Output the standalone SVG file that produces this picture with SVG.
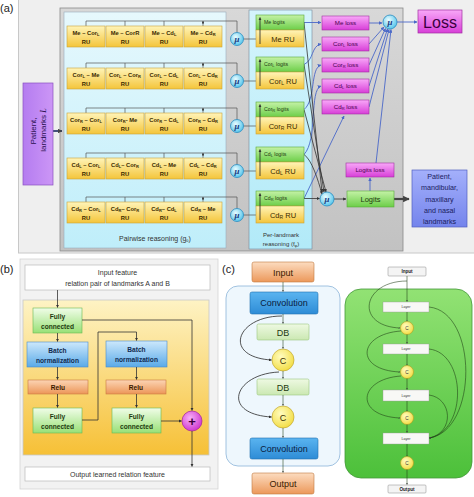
<svg xmlns="http://www.w3.org/2000/svg" width="474" height="497" viewBox="0 0 474 497">
<defs>
<linearGradient id="gY" x1="0" y1="0" x2="0" y2="1"><stop offset="0" stop-color="#fff4b8"/><stop offset="1" stop-color="#f4c53a"/></linearGradient>
<linearGradient id="gG" x1="0" y1="0" x2="0" y2="1"><stop offset="0" stop-color="#c4f2a6"/><stop offset="1" stop-color="#6cce48"/></linearGradient>
<linearGradient id="gM" x1="0" y1="0" x2="0" y2="1"><stop offset="0" stop-color="#f8a8f8"/><stop offset="1" stop-color="#d83ed8"/></linearGradient>
<radialGradient id="gMu" cx="0.4" cy="0.35" r="0.7"><stop offset="0" stop-color="#eafcff"/><stop offset="1" stop-color="#4ec2ea"/></radialGradient>
<linearGradient id="gP" x1="0" y1="0" x2="1" y2="0"><stop offset="0" stop-color="#b47cf0"/><stop offset="1" stop-color="#cc96f6"/></linearGradient>
<linearGradient id="gBV" x1="0" y1="0" x2="0" y2="1"><stop offset="0" stop-color="#a4b0fb"/><stop offset="1" stop-color="#7484ec"/></linearGradient>
<linearGradient id="gFrame" x1="0" y1="0" x2="0" y2="1"><stop offset="0" stop-color="#d8d8d8"/><stop offset="1" stop-color="#c2c2c2"/></linearGradient>
<linearGradient id="gPair" x1="0" y1="0" x2="0" y2="1"><stop offset="0" stop-color="#e6f8fd"/><stop offset="1" stop-color="#bfeefa"/></linearGradient>
<linearGradient id="gPer" x1="0" y1="0" x2="0" y2="1"><stop offset="0" stop-color="#d4f4fc"/><stop offset="1" stop-color="#b2eaf8"/></linearGradient>
<linearGradient id="gOY" x1="0" y1="0" x2="0" y2="1"><stop offset="0" stop-color="#fef3c4"/><stop offset="1" stop-color="#f6c036"/></linearGradient>
<linearGradient id="gFC" x1="0" y1="0" x2="0" y2="1"><stop offset="0" stop-color="#f0fde8"/><stop offset="1" stop-color="#98e076"/></linearGradient>
<linearGradient id="gBN" x1="0" y1="0" x2="0" y2="1"><stop offset="0" stop-color="#cce8fc"/><stop offset="1" stop-color="#5aaae8"/></linearGradient>
<linearGradient id="gRelu" x1="0" y1="0" x2="0" y2="1"><stop offset="0" stop-color="#fcd4b4"/><stop offset="1" stop-color="#ec9658"/></linearGradient>
<radialGradient id="gPlus" cx="0.4" cy="0.35" r="0.7"><stop offset="0" stop-color="#f8b0f8"/><stop offset="1" stop-color="#cc30cc"/></radialGradient>
<linearGradient id="gOr" x1="0" y1="0" x2="0" y2="1"><stop offset="0" stop-color="#fcdcc0"/><stop offset="1" stop-color="#ec985a"/></linearGradient>
<linearGradient id="gConv" x1="0" y1="0" x2="0" y2="1"><stop offset="0" stop-color="#5ab4f0"/><stop offset="1" stop-color="#2e8cd6"/></linearGradient>
<linearGradient id="gDB" x1="0" y1="0" x2="0" y2="1"><stop offset="0" stop-color="#eef9e2"/><stop offset="1" stop-color="#cbe8b2"/></linearGradient>
<radialGradient id="gC" cx="0.4" cy="0.35" r="0.7"><stop offset="0" stop-color="#fffcc0"/><stop offset="1" stop-color="#f2dc40"/></radialGradient>
<linearGradient id="gGP" x1="0" y1="0" x2="0" y2="1"><stop offset="0" stop-color="#92e274"/><stop offset="1" stop-color="#4cc03a"/></linearGradient>
<marker id="aD" viewBox="0 0 10 10" refX="9" refY="5" markerWidth="4" markerHeight="4" orient="auto"><path d="M0,0 L10,5 L0,10 z" fill="#333"/></marker>
<marker id="aB" viewBox="0 0 10 10" refX="9" refY="5" markerWidth="4" markerHeight="4" orient="auto"><path d="M0,0 L10,5 L0,10 z" fill="#4a68c8"/></marker>
<marker id="aS" viewBox="0 0 10 10" refX="9" refY="5" markerWidth="5" markerHeight="5" orient="auto"><path d="M0,0 L10,5 L0,10 z" fill="#222"/></marker>
<marker id="aT" viewBox="0 0 10 10" refX="9" refY="5" markerWidth="3" markerHeight="3" orient="auto"><path d="M0,0 L10,5 L0,10 z" fill="#444"/></marker>
</defs>
<style>
text{font-family:"Liberation Sans",Arial,sans-serif;}
.cell{fill:url(#gY);stroke:#c9a23a;stroke-width:0.6;}
.ct{font-size:5.8px;font-weight:bold;fill:#3a2a00;text-anchor:middle;}
.s{font-size:4px;}
.mu{fill:url(#gMu);stroke:#2a8cc0;stroke-width:0.8;}
.mut{font-family:"Liberation Serif",serif;font-style:italic;font-weight:bold;font-size:9px;fill:#1a3a80;text-anchor:middle;}
.lg{fill:url(#gG);stroke:#58a83a;stroke-width:0.6;}
.lgt{font-size:5.2px;fill:#1f3a10;}
.rut{font-size:7.5px;fill:#3a2a00;text-anchor:middle;}
.loss{fill:url(#gM);stroke:#a030a0;stroke-width:0.6;}
.lt{font-size:6.2px;fill:#4a0050;text-anchor:middle;}
.tree{fill:none;stroke:#555;stroke-width:0.7;}
.blue{fill:none;stroke:#4a68c8;stroke-width:0.9;marker-end:url(#aB);}
.dark{fill:none;stroke:#333;stroke-width:0.8;marker-end:url(#aD);}
.bk{fill:none;stroke:#222;stroke-width:0.8;marker-end:url(#aD);}
.bt{font-size:6.6px;font-weight:bold;text-anchor:middle;}
.ctx{font-size:9px;text-anchor:middle;}
.gl{fill:none;stroke:#1e3a14;stroke-width:0.55;marker-end:url(#aT);}
.lay{fill:#f8f8f6;stroke:#999;stroke-width:0.4;}
.cc{fill:url(#gC);stroke:#b89a20;stroke-width:0.6;}
</style>

<!-- panel backgrounds -->
<g id="panel-a-bg">
<rect x="18.5" y="-1" width="457" height="254" fill="#efefef" stroke="#c8c8c8" stroke-width="1"/>
<rect x="60" y="8" width="343" height="243" fill="url(#gFrame)" stroke="#8a8a8a" stroke-width="0.8"/>
<rect x="64" y="12" width="162" height="236" fill="url(#gPair)" stroke="#9ab" stroke-width="0.6"/>
<rect x="249" y="10" width="63" height="239" fill="url(#gPer)" stroke="#789" stroke-width="0.6"/>
<text x="155" y="241" font-size="7" fill="#333" text-anchor="middle">Pairwise reasoning (g<tspan class="s" dy="1.2">θ</tspan><tspan dy="-1.2">)</tspan></text>
<text x="281" y="237" font-size="6" fill="#333" text-anchor="middle">Per-landmark</text>
<text x="281" y="246" font-size="6" fill="#333" text-anchor="middle">reasoning (f<tspan class="s" dy="1.2">φ</tspan><tspan dy="-1.2">)</tspan></text>
</g>
<text x="0" y="12" font-size="11" fill="#222">(a)</text>
<text x="0" y="273" font-size="11" fill="#222">(b)</text>
<text x="222" y="273" font-size="11" fill="#222">(c)</text>

<!-- connectors panel a -->
<g id="connectors-a">
<path class="tree" d="M86,26V21H237V32.5M125,26V21M164,26V21M203,26V21" marker-end="url(#aD)"/>
<path class="tree" d="M86,68V63H237V74.5M125,68V63M164,68V63M203,68V63" marker-end="url(#aD)"/>
<path class="tree" d="M86,113V108H237V119.5M125,113V108M164,113V108M203,113V108" marker-end="url(#aD)"/>
<path class="tree" d="M86,158V153H237V164.5M125,158V153M164,158V153M203,158V153" marker-end="url(#aD)"/>
<path class="tree" d="M86,202V197H237V208.5M125,202V197M164,202V197M203,202V197" marker-end="url(#aD)"/>
<path class="tree" d="M243.5,39H256M243.5,81H256M243.5,126H256M243.5,171H256M243.5,215H256"/>
<!-- logits to losses -->
<path class="blue" d="M304,22.5H321"/>
<path class="blue" d="M304,64.5C314,60 311,46 321,44"/>
<path class="blue" d="M304,109.5C316,100 310,68 321,65"/>
<path class="blue" d="M304,154.5C318,140 309,90 321,86"/>
<path class="blue" d="M304,198.5L344,116"/>
<!-- logits to lower mu -->
<path class="dark" d="M304,22.5L322,192"/>
<path class="dark" d="M304,64.5L324,192"/>
<path class="dark" d="M304,109.5L326,192"/>
<path class="dark" d="M304,154.5C312,160 318,180 322,194"/>
<path class="dark" d="M304,198.5H319.5"/>
<!-- losses to mu -->
<path class="blue" d="M369,23H382"/>
<path class="blue" d="M369,44L384,27"/>
<path class="blue" d="M369,65L385.5,28.5"/>
<path class="blue" d="M369,86L387.5,29"/>
<path class="blue" d="M369,107L389,29.5"/>
<path class="blue" d="M376,163L391,29.5"/>
<path class="blue" d="M397,22H417"/>
<!-- lower -->
<path class="dark" d="M334,199H346"/>
<path class="blue" d="M370,191V178"/>
<path d="M394,199H409" stroke="#444" stroke-width="2.2" fill="none" marker-end="url(#aT)"/>
<path d="M53,131H62" stroke="#1a2a60" stroke-width="1.6" fill="none" marker-end="url(#aT)"/>
</g>

<!-- patient landmarks input -->
<g id="patient-landmarks">
<rect x="23" y="83" width="30" height="102" fill="url(#gP)" stroke="#8a50c0" stroke-width="0.7"/>
<text transform="translate(38,134) rotate(-90)" font-size="8" fill="#2a1050" text-anchor="middle"><tspan x="3" y="-2">Patient,</tspan><tspan x="4" y="8">landmarks   <tspan font-family="Liberation Serif,serif" font-style="italic">L</tspan></tspan></text>
</g>

<!-- pairwise RU cells -->
<g id="ru-me-corl"><rect class="cell" x="67" y="26" width="38" height="21"/><text class="ct" x="86" y="34.5">Me – Cor<tspan class="s" dy="1.2">L</tspan></text><text class="ct" x="86" y="43.5">RU</text></g>
<g id="ru-me-corr"><rect class="cell" x="106" y="26" width="38" height="21"/><text class="ct" x="125" y="34.5">Me – CorR</text><text class="ct" x="125" y="43.5">RU</text></g>
<g id="ru-me-cdl"><rect class="cell" x="145" y="26" width="38" height="21"/><text class="ct" x="164" y="34.5">Me – Cd<tspan class="s" dy="1.2">L</tspan></text><text class="ct" x="164" y="43.5">RU</text></g>
<g id="ru-me-cdr"><rect class="cell" x="184" y="26" width="38" height="21"/><text class="ct" x="203" y="34.5">Me – Cd<tspan class="s" dy="1.2">R</tspan></text><text class="ct" x="203" y="43.5">RU</text></g>

<g id="ru-corl-me"><rect class="cell" x="67" y="68" width="38" height="21"/><text class="ct" x="86" y="76.5">Cor<tspan class="s" dy="1.2">L</tspan><tspan dy="-1.2"> – Me</tspan></text><text class="ct" x="86" y="85.5">RU</text></g>
<g id="ru-corl-corr"><rect class="cell" x="106" y="68" width="38" height="21"/><text class="ct" x="125" y="76.5">Cor<tspan class="s" dy="1.2">L</tspan><tspan dy="-1.2"> – Cor</tspan><tspan class="s" dy="1.2">R</tspan></text><text class="ct" x="125" y="85.5">RU</text></g>
<g id="ru-corl-cdl"><rect class="cell" x="145" y="68" width="38" height="21"/><text class="ct" x="164" y="76.5">Cor<tspan class="s" dy="1.2">L</tspan><tspan dy="-1.2"> – Cd</tspan><tspan class="s" dy="1.2">L</tspan></text><text class="ct" x="164" y="85.5">RU</text></g>
<g id="ru-corl-cdr"><rect class="cell" x="184" y="68" width="38" height="21"/><text class="ct" x="203" y="76.5">Cor<tspan class="s" dy="1.2">L</tspan><tspan dy="-1.2"> – Cd</tspan><tspan class="s" dy="1.2">R</tspan></text><text class="ct" x="203" y="85.5">RU</text></g>

<g id="ru-corr-corl"><rect class="cell" x="67" y="113" width="38" height="21"/><text class="ct" x="86" y="121.5">Cor<tspan class="s" dy="1.2">R</tspan><tspan dy="-1.2"> – Cor</tspan><tspan class="s" dy="1.2">L</tspan></text><text class="ct" x="86" y="130.5">RU</text></g>
<g id="ru-corr-me"><rect class="cell" x="106" y="113" width="38" height="21"/><text class="ct" x="125" y="121.5">Cor<tspan class="s" dy="1.2">R</tspan><tspan dy="-1.2">- Me</tspan></text><text class="ct" x="125" y="130.5">RU</text></g>
<g id="ru-corr-cdl"><rect class="cell" x="145" y="113" width="38" height="21"/><text class="ct" x="164" y="121.5">Cor<tspan class="s" dy="1.2">R</tspan><tspan dy="-1.2"> – Cd</tspan><tspan class="s" dy="1.2">L</tspan></text><text class="ct" x="164" y="130.5">RU</text></g>
<g id="ru-corr-cdr"><rect class="cell" x="184" y="113" width="38" height="21"/><text class="ct" x="203" y="121.5">Cor<tspan class="s" dy="1.2">R</tspan><tspan dy="-1.2"> – Cd</tspan><tspan class="s" dy="1.2">R</tspan></text><text class="ct" x="203" y="130.5">RU</text></g>

<g id="ru-cdl-corl"><rect class="cell" x="67" y="158" width="38" height="21"/><text class="ct" x="86" y="166.5">Cd<tspan class="s" dy="1.2">L</tspan><tspan dy="-1.2"> – Cor</tspan><tspan class="s" dy="1.2">L</tspan></text><text class="ct" x="86" y="175.5">RU</text></g>
<g id="ru-cdl-corr"><rect class="cell" x="106" y="158" width="38" height="21"/><text class="ct" x="125" y="166.5">Cd<tspan class="s" dy="1.2">L</tspan><tspan dy="-1.2">– Cor</tspan><tspan class="s" dy="1.2">R</tspan></text><text class="ct" x="125" y="175.5">RU</text></g>
<g id="ru-cdl-me"><rect class="cell" x="145" y="158" width="38" height="21"/><text class="ct" x="164" y="166.5">Cd<tspan class="s" dy="1.2">L</tspan><tspan dy="-1.2"> – Me</tspan></text><text class="ct" x="164" y="175.5">RU</text></g>
<g id="ru-cdl-cdr"><rect class="cell" x="184" y="158" width="38" height="21"/><text class="ct" x="203" y="166.5">Cd<tspan class="s" dy="1.2">L</tspan><tspan dy="-1.2"> – Cd</tspan><tspan class="s" dy="1.2">R</tspan></text><text class="ct" x="203" y="175.5">RU</text></g>

<g id="ru-cdr-corl"><rect class="cell" x="67" y="202" width="38" height="21"/><text class="ct" x="86" y="210.5">Cd<tspan class="s" dy="1.2">R</tspan><tspan dy="-1.2"> – Cor</tspan><tspan class="s" dy="1.2">L</tspan></text><text class="ct" x="86" y="219.5">RU</text></g>
<g id="ru-cdr-corr"><rect class="cell" x="106" y="202" width="38" height="21"/><text class="ct" x="125" y="210.5">Cd<tspan class="s" dy="1.2">R</tspan><tspan dy="-1.2">– Cor</tspan><tspan class="s" dy="1.2">R</tspan></text><text class="ct" x="125" y="219.5">RU</text></g>
<g id="ru-cdr-cdl"><rect class="cell" x="145" y="202" width="38" height="21"/><text class="ct" x="164" y="210.5">Cd<tspan class="s" dy="1.2">R</tspan><tspan dy="-1.2">– Cd</tspan><tspan class="s" dy="1.2">L</tspan></text><text class="ct" x="164" y="219.5">RU</text></g>
<g id="ru-cdr-me"><rect class="cell" x="184" y="202" width="38" height="21"/><text class="ct" x="203" y="210.5">Cd<tspan class="s" dy="1.2">R</tspan><tspan dy="-1.2"> – Me</tspan></text><text class="ct" x="203" y="219.5">RU</text></g>

<!-- mu nodes -->
<g id="mu-1"><circle class="mu" cx="237" cy="39" r="6.5"/><text class="mut" x="237" y="42">μ</text></g>
<g id="mu-2"><circle class="mu" cx="237" cy="81" r="6.5"/><text class="mut" x="237" y="84">μ</text></g>
<g id="mu-3"><circle class="mu" cx="237" cy="126" r="6.5"/><text class="mut" x="237" y="129">μ</text></g>
<g id="mu-4"><circle class="mu" cx="237" cy="171" r="6.5"/><text class="mut" x="237" y="174">μ</text></g>
<g id="mu-5"><circle class="mu" cx="237" cy="215" r="6.5"/><text class="mut" x="237" y="218">μ</text></g>

<!-- per-landmark -->
<g id="pl-me"><rect class="lg" x="256" y="15" width="48" height="15"/><rect class="cell" x="256" y="30" width="48" height="17"/><path d="M260,44V17.5" class="bk" marker-end="url(#aT)"/><text class="lgt" x="264" y="24">Me logits</text><text class="rut" x="283" y="41.5">Me RU</text></g>
<g id="pl-corl"><rect class="lg" x="256" y="57" width="48" height="15"/><rect class="cell" x="256" y="72" width="48" height="17"/><path d="M260,86V59.5" class="bk" marker-end="url(#aT)"/><text class="lgt" x="264" y="66">Cor<tspan class="s" dy="1">L</tspan><tspan dy="-1"> logits</tspan></text><text class="rut" x="283" y="83.5">Cor<tspan font-size="5" dy="1.5">L</tspan><tspan dy="-1.5"> RU</tspan></text></g>
<g id="pl-corr"><rect class="lg" x="256" y="102" width="48" height="15"/><rect class="cell" x="256" y="117" width="48" height="17"/><path d="M260,131V104.5" class="bk" marker-end="url(#aT)"/><text class="lgt" x="264" y="111">Cor<tspan class="s" dy="1">R</tspan><tspan dy="-1"> logits</tspan></text><text class="rut" x="283" y="128.5">Cor<tspan font-size="5" dy="1.5">R</tspan><tspan dy="-1.5">  RU</tspan></text></g>
<g id="pl-cdl"><rect class="lg" x="256" y="147" width="48" height="15"/><rect class="cell" x="256" y="162" width="48" height="17"/><path d="M260,176V149.5" class="bk" marker-end="url(#aT)"/><text class="lgt" x="264" y="156">Cd<tspan class="s" dy="1">L</tspan><tspan dy="-1"> logits</tspan></text><text class="rut" x="283" y="173.5">Cd<tspan font-size="5" dy="1.5">L</tspan><tspan dy="-1.5">  RU</tspan></text></g>
<g id="pl-cdr"><rect class="lg" x="256" y="191" width="48" height="15"/><rect class="cell" x="256" y="206" width="48" height="17"/><path d="M260,220V193.5" class="bk" marker-end="url(#aT)"/><text class="lgt" x="264" y="200">Cd<tspan class="s" dy="1">R</tspan><tspan dy="-1"> logits</tspan></text><text class="rut" x="283" y="217.5">Cd<tspan font-size="5" dy="1.5">R</tspan><tspan dy="-1.5"> RU</tspan></text></g>

<!-- losses -->
<g id="me-loss"><rect class="loss" x="322" y="16" width="47" height="14"/><text class="lt" x="345.5" y="25.2">Me loss</text></g>
<g id="corl-loss"><rect class="loss" x="322" y="37" width="47" height="14"/><text class="lt" x="345.5" y="46.2">Cor<tspan class="s" dy="1">L</tspan><tspan dy="-1"> loss</tspan></text></g>
<g id="corr-loss"><rect class="loss" x="322" y="58" width="47" height="14"/><text class="lt" x="345.5" y="67.2">Cor<tspan class="s" dy="1">R</tspan><tspan dy="-1"> loss</tspan></text></g>
<g id="cdl-loss"><rect class="loss" x="322" y="79" width="47" height="14"/><text class="lt" x="345.5" y="88.2">Cd<tspan class="s" dy="1">L</tspan><tspan dy="-1"> loss</tspan></text></g>
<g id="cdr-loss"><rect class="loss" x="322" y="100" width="47" height="14"/><text class="lt" x="345.5" y="109.2">Cd<tspan class="s" dy="1">R</tspan><tspan dy="-1"> loss</tspan></text></g>
<g id="mu-loss"><circle class="mu" cx="390" cy="22" r="7"/><text class="mut" x="390" y="25" font-size="8">μ</text></g>
<g id="loss"><rect x="418" y="10" width="44" height="23" fill="url(#gM)" stroke="#a030a0" stroke-width="0.7"/><text x="440" y="27.5" font-size="16" fill="#3a0040" text-anchor="middle">Loss</text></g>
<g id="mu-logits"><circle class="mu" cx="327" cy="199" r="7"/><text class="mut" x="327" y="202">μ</text></g>
<g id="logits-loss"><rect class="loss" x="346" y="163" width="48" height="14"/><text class="lt" x="370" y="172.2">Logits loss</text></g>
<g id="logits"><rect class="lg" x="347" y="191" width="47" height="16"/><text x="370.5" y="201.5" font-size="7.5" fill="#1f3a10" text-anchor="middle">Logits</text></g>
<g id="patient-output"><rect x="412" y="170" width="55" height="57" fill="url(#gBV)" stroke="#5060c0" stroke-width="0.7"/>
<text font-size="7.2" fill="#1a2060" text-anchor="middle"><tspan x="439.5" y="178.5">Patient,</tspan><tspan x="439.5" y="190">mandibular,</tspan><tspan x="439.5" y="201.5">maxillary</tspan><tspan x="439.5" y="212.5">and nasal</tspan><tspan x="439.5" y="223.5">landmarks</tspan></text></g>

<!-- panel b -->
<g id="panel-b-bg"><rect x="20" y="259" width="198" height="230" fill="#f2f2f2" stroke="#d4d4d4" stroke-width="0.8"/>
<rect x="23" y="300" width="186" height="155" fill="url(#gOY)" stroke="#c8c8c8" stroke-width="0.8"/></g>
<g id="input-feature"><rect x="25" y="265" width="185" height="25" fill="#fff" stroke="#bbb" stroke-width="0.7"/><text x="117.5" y="275" font-size="7" fill="#333" text-anchor="middle">Input feature</text><text x="117.5" y="286" font-size="7" fill="#333" text-anchor="middle">relation pair of landmarks A and B</text></g>
<g id="fc1"><rect x="33" y="308" width="49" height="25" fill="url(#gFC)" stroke="#6ab850" stroke-width="0.6"/><text class="bt" x="57.5" y="318.5" fill="#1e3a10">Fully</text><text class="bt" x="57.5" y="329" fill="#1e3a10">connected</text></g>
<g id="bn1"><rect x="27" y="342" width="61" height="25" fill="url(#gBN)" stroke="#4a8ac8" stroke-width="0.6"/><text class="bt" x="57.5" y="352.5" fill="#102a50">Batch</text><text class="bt" x="57.5" y="363" fill="#102a50">normalization</text></g>
<g id="relu1"><rect x="28" y="380" width="60" height="14" fill="url(#gRelu)" stroke="#c87840" stroke-width="0.6"/><text class="bt" x="58" y="389.5" fill="#3a1a00">Relu</text></g>
<g id="fc2"><rect x="33" y="408" width="49" height="25" fill="url(#gFC)" stroke="#6ab850" stroke-width="0.6"/><text class="bt" x="57.5" y="418.5" fill="#1e3a10">Fully</text><text class="bt" x="57.5" y="429" fill="#1e3a10">connected</text></g>
<g id="bn2"><rect x="106" y="341" width="61" height="26" fill="url(#gBN)" stroke="#4a8ac8" stroke-width="0.6"/><text class="bt" x="136.5" y="351.5" fill="#102a50">Batch</text><text class="bt" x="136.5" y="362" fill="#102a50">normalization</text></g>
<g id="relu2"><rect x="106" y="380" width="60" height="14" fill="url(#gRelu)" stroke="#c87840" stroke-width="0.6"/><text class="bt" x="136" y="389.5" fill="#3a1a00">Relu</text></g>
<g id="fc3"><rect x="112" y="408" width="49" height="25" fill="url(#gFC)" stroke="#6ab850" stroke-width="0.6"/><text class="bt" x="136.5" y="418.5" fill="#1e3a10">Fully</text><text class="bt" x="136.5" y="429" fill="#1e3a10">connected</text></g>
<g id="plus"><circle cx="192" cy="421" r="10" fill="url(#gPlus)" stroke="#a020a0" stroke-width="0.7"/><text x="192" y="425.5" font-size="13" font-weight="bold" fill="#3a003a" text-anchor="middle">+</text></g>
<g id="output-feature"><rect x="25" y="467" width="185" height="14" fill="#fff" stroke="#bbb" stroke-width="0.7"/><text x="117.5" y="476.5" font-size="7" fill="#333" text-anchor="middle">Output learned relation feature</text></g>
<g id="connectors-b">
<path class="dark" d="M57.5,290V307.5"/>
<path class="dark" d="M57.5,333V341.5"/>
<path class="dark" d="M57.5,367V379.5"/>
<path class="dark" d="M57.5,394V407.5"/>
<path class="dark" d="M82,420H98V332H136.5V340.5"/>
<path class="dark" d="M136.5,367V379.5"/>
<path class="dark" d="M136.5,394V407.5"/>
<path class="dark" d="M161,421H181.5"/>
<path class="dark" d="M82,320H192V410.5"/>
<path class="dark" d="M192,431V466.5"/>
</g>

<!-- panel c left -->
<g id="panel-c-left-bg"><rect x="226" y="286" width="114" height="180" rx="12" fill="#eef7fd" stroke="#8cb4d8" stroke-width="0.8"/></g>
<g id="c-input"><rect x="252" y="262" width="62" height="20" rx="2" fill="url(#gOr)" stroke="#c07840" stroke-width="0.6"/><text class="ctx" x="283" y="275.5" fill="#3a1a00">Input</text></g>
<g id="conv1"><rect x="250" y="292" width="68" height="22" rx="2" fill="url(#gConv)" stroke="#2070b0" stroke-width="0.6"/><text class="ctx" x="284" y="306" fill="#0a2040">Convolution</text></g>
<g id="db1"><rect x="257" y="324" width="52" height="16" rx="1.5" fill="url(#gDB)" stroke="#9cc880" stroke-width="0.6"/><text class="ctx" x="283" y="335.5" fill="#1e3a10">DB</text></g>
<g id="c1"><circle class="cc" cx="283" cy="360" r="11"/><text class="ctx" x="283" y="363.5" fill="#3a3000">C</text></g>
<g id="db2"><rect x="257" y="379" width="52" height="16" rx="1.5" fill="url(#gDB)" stroke="#9cc880" stroke-width="0.6"/><text class="ctx" x="283" y="390.5" fill="#1e3a10">DB</text></g>
<g id="c2"><circle class="cc" cx="283" cy="417" r="11"/><text class="ctx" x="283" y="420.5" fill="#3a3000">C</text></g>
<g id="conv2"><rect x="250" y="438" width="68" height="21" rx="2" fill="url(#gConv)" stroke="#2070b0" stroke-width="0.6"/><text class="ctx" x="284" y="451.5" fill="#0a2040">Convolution</text></g>
<g id="c-output"><rect x="252" y="473" width="62" height="21" rx="2" fill="url(#gOr)" stroke="#c07840" stroke-width="0.6"/><text class="ctx" x="283" y="487" fill="#3a1a00">Output</text></g>
<g id="connectors-c-left">
<path class="gl" d="M283,282V291.5"/>
<path class="gl" d="M283,314V323.5"/>
<path class="gl" d="M283,340V348.5"/>
<path class="gl" d="M283,371V378.5"/>
<path class="gl" d="M283,395V405.5"/>
<path class="gl" d="M283,428V437.5"/>
<path class="gl" d="M283,459V472.5"/>
<path d="M282,316C236,316 222,357 271.5,360" fill="none" stroke="#2a2a2a" stroke-width="0.8" marker-end="url(#aD)"/>
<path d="M279,372C234,374 220,414 271.5,417" fill="none" stroke="#2a2a2a" stroke-width="0.8" marker-end="url(#aD)"/>
</g>

<!-- panel c right -->
<g id="panel-c-right-bg"><rect x="345" y="289" width="127" height="189" rx="16" fill="url(#gGP)" stroke="#44983a" stroke-width="0.8"/></g>
<g id="g-input"><rect x="388" y="267" width="38" height="9" rx="1" fill="#f4f4f4" stroke="#888" stroke-width="0.5"/><text x="407" y="273.3" font-size="4.6" font-weight="bold" fill="#222" text-anchor="middle">Input</text></g>
<g id="layer1"><rect class="lay" x="383" y="302" width="46" height="10"/><text x="406" y="308.3" font-size="3.6" fill="#333" text-anchor="middle">Layer</text></g>
<g id="layer2"><rect class="lay" x="383" y="344" width="46" height="10"/><text x="406" y="350.3" font-size="3.6" fill="#333" text-anchor="middle">Layer</text></g>
<g id="layer3"><rect class="lay" x="383" y="390" width="46" height="11"/><text x="406" y="396.8" font-size="3.6" fill="#333" text-anchor="middle">Layer</text></g>
<g id="layer4"><rect class="lay" x="383" y="433" width="46" height="11"/><text x="406" y="439.8" font-size="3.6" fill="#333" text-anchor="middle">Layer</text></g>
<g id="gc1"><circle class="cc" cx="407" cy="328" r="6.5"/><text x="407" y="329.7" font-size="4.6" fill="#333" text-anchor="middle">C</text></g>
<g id="gc2"><circle class="cc" cx="407" cy="372" r="6.5"/><text x="407" y="373.7" font-size="4.6" fill="#333" text-anchor="middle">C</text></g>
<g id="gc3"><circle class="cc" cx="407" cy="418" r="6.5"/><text x="407" y="419.7" font-size="4.6" fill="#333" text-anchor="middle">C</text></g>
<g id="gc4"><circle class="cc" cx="407" cy="463" r="6.5"/><text x="407" y="464.7" font-size="4.6" fill="#333" text-anchor="middle">C</text></g>
<g id="g-output"><rect x="388" y="485" width="38" height="8" rx="1" fill="#f4f4f4" stroke="#888" stroke-width="0.5"/><text x="407" y="490.6" font-size="4.6" font-weight="bold" fill="#222" text-anchor="middle">Output</text></g>
<g id="connectors-c-right">
<path class="gl" d="M407,276V301.5"/>
<path class="gl" d="M407,312V321"/>
<path class="gl" d="M407,334.5V343.5"/>
<path class="gl" d="M407,354V365"/>
<path class="gl" d="M407,378.5V389.5"/>
<path class="gl" d="M407,401V411"/>
<path class="gl" d="M407,424.5V432.5"/>
<path class="gl" d="M407,444V456"/>
<path class="gl" d="M407,469.5V484.5"/>
<path class="gl" d="M407,281C362,281 354,326 400,328"/>
<path class="gl" d="M401,331C358,334 354,370 400,372"/>
<path class="gl" d="M401,376C358,379 354,416 400,418"/>
<path class="gl" d="M429,307C478,312 478,430 429.5,438"/>
<path class="gl" d="M429,349C466,353 468,430 429.5,438"/>
<path class="gl" d="M429,395C452,398 455,432 429.5,438"/>
</g>
</svg>
